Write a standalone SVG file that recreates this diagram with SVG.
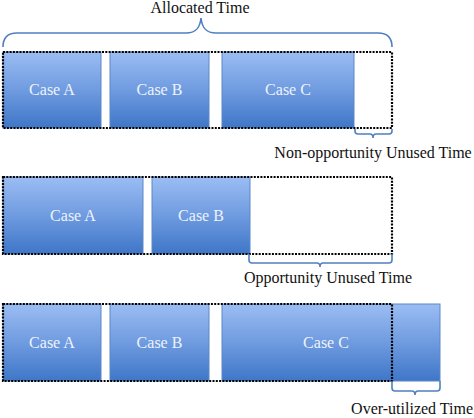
<svg xmlns="http://www.w3.org/2000/svg" width="474" height="418" viewBox="0 0 474 418">
<defs>
<linearGradient id="g" x1="0" y1="0" x2="0" y2="1">
<stop offset="0" stop-color="#9bbdf3"/>
<stop offset="0.5" stop-color="#6f9be0"/>
<stop offset="1" stop-color="#3e76c7"/>
</linearGradient>
</defs>
<style>
.case{fill:url(#g);stroke:#5b88c8;stroke-width:1}
.dot{fill:none;stroke:#000;stroke-width:2.2;stroke-dasharray:2 1.3}
.br{fill:none;stroke:#4f7fc0;stroke-width:1.6}
.ct{font-family:"Liberation Serif","Times New Roman",serif;font-size:16px;fill:#eef3fb;text-anchor:middle}
.lb{font-family:"Liberation Serif","Times New Roman",serif;font-size:16px;fill:#111}
</style>
<rect width="474" height="418" fill="#fff"/>
<g id="row1">
<g id="r1-caseA"><rect class="case" x="3" y="52" width="98" height="76"/><text class="ct" x="52" y="95">Case A</text></g>
<g id="r1-caseB"><rect class="case" x="110" y="52" width="99" height="76"/><text class="ct" x="159.5" y="95">Case B</text></g>
<g id="r1-caseC"><rect class="case" x="222" y="52" width="132" height="76"/><text class="ct" x="288" y="95">Case C</text></g>
<rect id="r1-allocated" class="dot" x="3" y="52" width="389" height="76"/>
</g>
<g id="row2">
<g id="r2-caseA"><rect class="case" x="3" y="177" width="140" height="77"/><text class="ct" x="73" y="221">Case A</text></g>
<g id="r2-caseB"><rect class="case" x="152" y="177" width="98" height="77"/><text class="ct" x="201" y="221">Case B</text></g>
<rect id="r2-allocated" class="dot" x="3" y="177" width="389" height="77"/>
</g>
<g id="row3">
<g id="r3-caseA"><rect class="case" x="3" y="304" width="98" height="77"/><text class="ct" x="52" y="348">Case A</text></g>
<g id="r3-caseB"><rect class="case" x="110" y="304" width="99" height="77"/><text class="ct" x="159.5" y="348">Case B</text></g>
<g id="r3-caseC"><rect class="case" x="222" y="304" width="218" height="77"/><text class="ct" x="326" y="348">Case C</text></g>
<rect id="r3-allocated" class="dot" x="3" y="304" width="389" height="77"/>
</g>
<g id="braces">
<path class="br" d="M3,47 Q3,33 17,33 H186 C196,33 200,28 201,18 C202,28 206,33 216,33 H378 Q392,33 392,47"/>
<path class="br" d="M355,129 V131 Q355,134 358,134 H370 Q373,134 373,138 Q373,134 376,134 H389 Q392,134 392,131 V129"/>
<path class="br" d="M249,254 V260 Q249,263 252,263 H317 Q320,263 320,267 Q320,263 323,263 H389 Q392,263 392,260 V254"/>
<path class="br" d="M392,381 V388 Q392,391 395,391 H412 Q415,391 415,395 Q415,391 418,391 H437 Q440,391 440,388 V381"/>
</g>
<g id="labels">
<text class="lb" x="200" y="13" text-anchor="middle">Allocated Time</text>
<text class="lb" x="373" y="158" text-anchor="middle">Non-opportunity Unused Time</text>
<text class="lb" x="328" y="283" text-anchor="middle">Opportunity Unused Time</text>
<text class="lb" x="473" y="414" text-anchor="end">Over-utilized Time</text>
</g>
</svg>
